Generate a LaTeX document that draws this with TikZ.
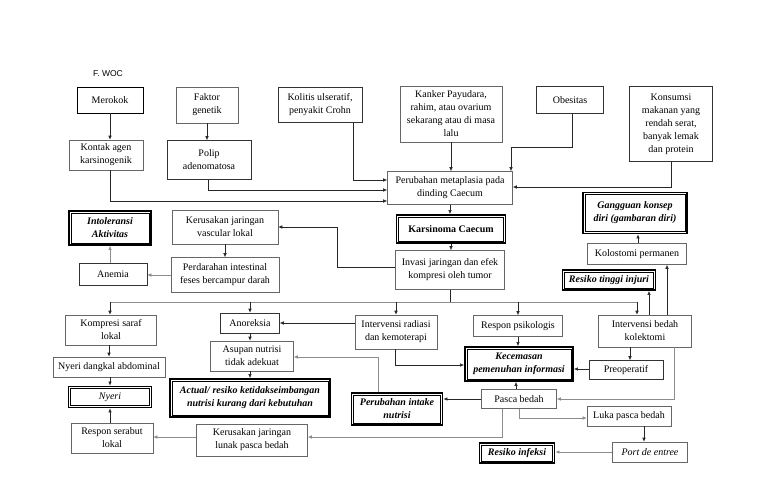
\documentclass[tikz,border=0pt]{standalone}
\usepackage{fontspec}
\setmainfont{Liberation Serif}
\newfontfamily\sansf{Liberation Sans}
\usetikzlibrary{arrows.meta}
\begin{document}
\begin{tikzpicture}[x=1pt,y=-1pt,
  box/.style={draw=black!60, line width=0.6pt, fill=white, align=center, inner sep=1pt, font=\fontsize{10}{13}\selectfont},
  dbox/.style={box, draw=black, line width=1.8pt, font=\fontsize{10}{13}\selectfont\bfseries\itshape},
  innerline/.style={draw=black, line width=0.6pt},
  conn/.style={draw=black!85, line width=0.6pt, -{Latex[length=4pt,width=3.5pt]}},
  connG/.style={conn, draw=black!45},
  seg/.style={draw=black!85, line width=0.6pt},
  segG/.style={seg, draw=black!45}]
\useasboundingbox (0,0) rectangle (768,501);
\fill[white] (0,0) rectangle (768,501);

% ---------- nodes ----------
\node[font=\sansf\fontsize{8.5}{10}\selectfont] (woc) at (108,74) {F. WOC};
\node[box, draw=black, minimum width=66pt, minimum height=26pt] (merokok) at (110,100) {Merokok};
\node[box, minimum width=62pt, minimum height=36pt] (faktor) at (207,105) {Faktor\\genetik};
\node[box, draw=black!80, minimum width=84pt, minimum height=35pt] (kolitis) at (320,105) {Kolitis ulseratif,\\penyakit Crohn};
\node[box, minimum width=102pt, minimum height=56pt] (kanker) at (451,114) {Kanker Payudara,\\rahim, atau ovarium\\sekarang atau di masa\\lalu};
\node[box, draw=black!80, minimum width=67pt, minimum height=27pt] (obesitas) at (570,100) {Obesitas};
\node[box, draw=black!80, minimum width=83pt, minimum height=75pt] (konsumsi) at (671,124) {Konsumsi\\makanan yang\\rendah serat,\\banyak lemak\\dan protein};
\node[box, minimum width=74pt, minimum height=30pt] (kontak) at (106,155) {Kontak agen\\karsinogenik};
\node[box, draw=black!80, minimum width=84pt, minimum height=39pt] (polip) at (209,160) {Polip\\adenomatosa};
\node[box, minimum width=125pt, minimum height=33pt] (pm) at (450,188) {Perubahan metaplasia pada\\dinding Caecum};
\node[dbox, font=\fontsize{10}{13}\selectfont\bfseries, minimum width=109pt, minimum height=28pt] (karsinoma) at (451,229) {Karsinoma Caecum};
\node[box, minimum width=109pt, minimum height=39pt] (invasi) at (450,270) {Invasi jaringan dan efek\\kompresi oleh tumor};
\node[box, minimum width=106pt, minimum height=34pt] (kvasc) at (225,227) {Kerusakan jaringan\\vascular lokal};
\node[box, minimum width=108pt, minimum height=35pt] (perdarahan) at (225,275) {Perdarahan intestinal\\feses bercampur darah};
\node[box, draw=black!80, minimum width=68pt, minimum height=22pt] (anemia) at (113,274) {Anemia};
\node[dbox, minimum width=82pt, minimum height=34pt] (intol) at (110,228) {Intoleransi\\Aktivitas};

\node[box, minimum width=91pt, minimum height=30pt] (kompresi) at (111,330) {Kompresi saraf\\lokal};
\node[box, minimum width=112pt, minimum height=20pt] (nyeridk) at (109,367) {Nyeri dangkal abdominal};
\node[dbox, font=\fontsize{10}{13}\selectfont\itshape, minimum width=83pt, minimum height=21pt] (nyeri) at (110,397) {Nyeri};
\node[box, minimum width=82pt, minimum height=30pt] (respser) at (112,438) {Respon serabut\\lokal};
\node[box, draw=black!80, minimum width=59pt, minimum height=20pt] (anoreksia) at (250,323) {Anoreksia};
\node[box, minimum width=83pt, minimum height=30pt] (asupan) at (252,356) {Asupan nutrisi\\tidak adekuat};
\node[dbox, minimum width=160pt, minimum height=38pt] (actual) at (250,398) {Actual/ resiko ketidakseimbangan\\nutrisi kurang dari kebutuhan};
\node[box, minimum width=111pt, minimum height=32pt] (kluna) at (252,440) {Kerusakan jaringan\\lunak pasca bedah};

\node[box, minimum width=82pt, minimum height=34pt] (radiasi) at (396,332) {Intervensi radiasi\\dan kemoterapi};
\node[box, minimum width=89pt, minimum height=21pt] (respsi) at (518,326) {Respon psikologis};
\node[dbox, minimum width=108pt, minimum height=34pt] (kecem) at (519,364) {Kecemasan\\pemenuhan informasi};
\node[box, minimum width=75pt, minimum height=19pt] (pasca) at (519,399) {Pasca bedah};
\node[dbox, minimum width=91pt, minimum height=32pt] (pintake) at (397,409) {Perubahan intake\\nutrisi};
\node[box, minimum width=84pt, minimum height=20pt] (luka) at (629,416) {Luka pasca bedah};
\node[box, font=\fontsize{10}{13}\selectfont\itshape, minimum width=75pt, minimum height=20pt] (port) at (650,452) {Port de entree};
\node[dbox, minimum width=75pt, minimum height=20pt] (rinf) at (517,453) {Resiko infeksi};

\node[box, minimum width=93pt, minimum height=32pt] (kolbedah) at (645,331) {Intervensi bedah\\kolektomi};
\node[box, draw=black!80, minimum width=74pt, minimum height=19pt] (preop) at (626,370) {Preoperatif};
\node[dbox, minimum width=93pt, minimum height=20pt] (rti) at (609,280) {Resiko tinggi injuri};
\node[box, minimum width=99pt, minimum height=21pt] (kolost) at (637,254) {Kolostomi permanen};
\node[dbox, minimum width=104pt, minimum height=41pt] (gangguan) at (635,213) {Gangguan konsep\\diri (gambaran diri)};

\foreach \n in {intol,karsinoma,gangguan,rti,kecem,nyeri,actual,pintake,rinf}
  \draw[innerline] ([shift={(2.9pt,-2.9pt)}]\n.north west) rectangle ([shift={(-2.9pt,2.9pt)}]\n.south east);

% ---------- helper coordinates ----------
\coordinate (c1) at (110,201);
\coordinate (c2) at (208,190);
\coordinate (c3) at (353,180);
\coordinate (c4) at (572,147);
\coordinate (c5) at (511,147);
\coordinate (c6) at (671,187);
\coordinate (c7) at (337,267);
\coordinate (c8) at (337,227);
\coordinate (c9) at (110,302);
\coordinate (c10) at (637,302);
\coordinate (c11) at (395,365);
\coordinate (c12) at (378,357);
\coordinate (c13) at (502,437);
\coordinate (c14) at (519,418);
\coordinate (c15) at (674,399);
\coordinate (c16) at (630,0);
\coordinate (c17) at (649,0);
\coordinate (c18) at (667,0);
\coordinate (c19) at (638,0);
\coordinate (c20) at (516,0);
\coordinate (c21) at (644,0);
\coordinate (c22) at (0,369);
\coordinate (c23) at (0,437);
\coordinate (c24) at (0,323);

% ---------- connectors ----------
\draw[conn] (merokok.south) -- (merokok.south |- kontak.north);
\draw[conn] (faktor.south) -- (faktor.south |- polip.north);
\draw[conn] (kontak.south -| c1) |- (pm.west |- c1);
\draw[conn] (polip.south -| c2) |- (pm.west |- c2);
\draw[conn] (kolitis.south -| c3) |- (pm.west |- c3);
\draw[conn] (kanker.south) -- (kanker.south |- pm.north);
\draw[conn] (obesitas.south -| c4) -- (c4) -- (c5) -- (c5 |- pm.north);
\draw[conn] (konsumsi.south -| c6) |- (pm.east |- c6);
\draw[conn] (pm.south) -- (pm.south |- karsinoma.north);
\draw[conn] (karsinoma.south) -- (karsinoma.south |- invasi.north);
\draw[conn] (invasi.west |- c7) -- (c7) -- (c8) -- (kvasc.east |- c8);
\draw[conn] (kvasc.south) -- (perdarahan.north);
\draw[connG] (perdarahan.west) -- (anemia.east |- perdarahan.west);
\draw[connG] (anemia.north -| intol.south) -- (intol.south);

% bus
\draw[seg] (invasi.south) -- (invasi.south |- c9);
\draw[segG] (c9) -- (c10);
\draw[conn] (c9) -- (c9 |- kompresi.north);
\draw[conn] (anoreksia.north |- c9) -- (anoreksia.north);
\draw[conn] (radiasi.north |- c9) -- (radiasi.north);
\draw[conn] (respsi.north |- c9) -- (respsi.north);
\draw[conn] (c10) -- (c10 |- kolbedah.north);

\draw[conn] (radiasi.west |- c24) -- (anoreksia.east |- c24);
\draw[conn] (radiasi.south -| c11) |- (kecem.west |- c11);
\draw[conn] (respsi.south) -- (respsi.south |- kecem.north);
\draw[conn] (kompresi.south -| nyeridk.north) -- (nyeridk.north);
\draw[conn] (nyeridk.south -| nyeri.north) -- (nyeri.north);
\draw[conn] (respser.north -| nyeri.south) -- (nyeri.south);
\draw[conn] (anoreksia.south) -- (anoreksia.south |- asupan.north);
\draw[conn] (asupan.south -| anoreksia.south) -- (anoreksia.south |- actual.north);
\draw[connG] (pintake.north -| c12) |- (asupan.east |- c12);
\draw[conn] (pasca.west) -- (pintake.east |- pasca.west);
\draw[conn] (pasca.north -| c20) -- (kecem.south -| c20);
\draw[connG] (pasca.south -| c13) |- (kluna.east |- c13);
\draw[connG] (kluna.west |- c23) -- (respser.east |- c23);
\draw[connG] (pasca.south -| c14) |- (luka.west |- c14);
\draw[conn] (luka.south -| c21) -- (port.north -| c21);
\draw[connG] (port.west) -- (rinf.east |- port.west);
\draw[conn] (preop.west |- c22) -- (kecem.east |- c22);
\draw[conn] (kolbedah.south -| c16) -- (preop.north -| c16);
\draw[connG] (kolbedah.south -| c15) |- (pasca.east);
\draw[conn] (kolbedah.north -| c17) -- (rti.south -| c17);
\draw[conn] (kolbedah.north -| c18) -- (kolost.south -| c18);
\draw[conn] (kolost.north -| c19) -- (gangguan.south -| c19);
\end{tikzpicture}
\end{document}
